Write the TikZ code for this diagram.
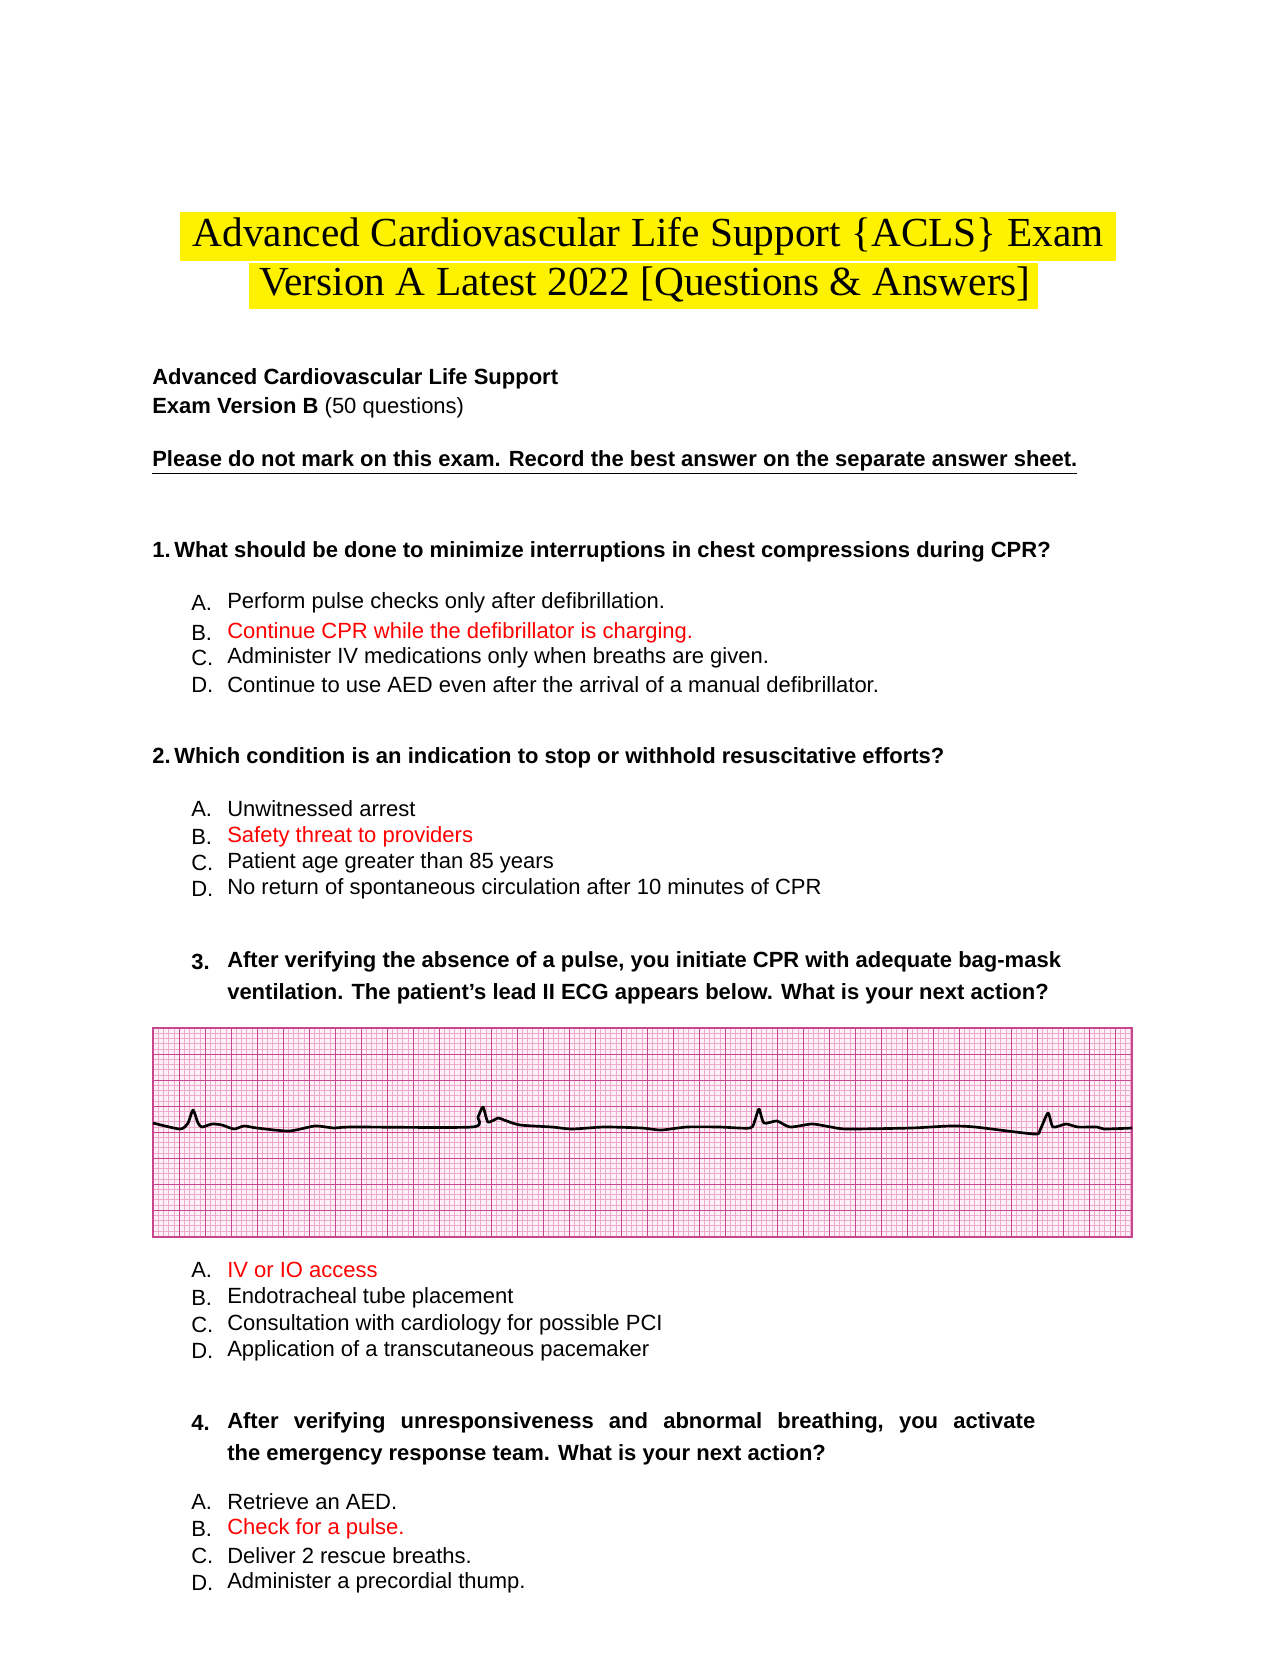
\documentclass[tikz,border=0pt]{standalone}
\usepackage{fontspec}
\setmainfont{Liberation Sans}
\newfontfamily\titlefont{Liberation Serif}
\definecolor{ecgbg}{RGB}{253,240,246}
\definecolor{ecgmin}{RGB}{238,170,205}
\definecolor{ecgmaj}{RGB}{200,70,140}
\begin{document}
\begin{tikzpicture}[x=0.75pt,y=-0.75pt,
  txt/.style={anchor=west,inner sep=0pt,font=\fontsize{16.5}{20}\selectfont},
  bq/.style={txt,font=\fontsize{16.5}{20}\selectfont\bfseries},
  ans/.style={txt,text=red},
  ttl/.style={font=\titlefont\fontsize{31}{36}\selectfont,inner sep=0pt}]
\useasboundingbox[fill=white] (0,0) rectangle (1280,1656);
% title
\fill[yellow] (180,212) rectangle (1116,261);
\fill[yellow] (249,263) rectangle (1038,309);
\node[ttl] (t1) at (648,236) {Advanced Cardiovascular Life Support \{ACLS\} Exam};
\node[ttl] (t2) at (645,285) {Version A Latest 2022 [Questions \& Answers]};
\node[bq] (h1) at (152,379) {Advanced Cardiovascular Life Support};
\node[txt] (h2) at (152,408) {\textbf{Exam Version B} (50 questions)};
\node[bq] (h3) at (152,462) {\underline{Please do not mark on this exam. Record the best answer on the separate answer sheet.}};
% Q1
\node[bq] (q1) at (152,552) {1.\,What should be done to minimize interruptions in chest compressions during CPR?};
\foreach \l/\y in {A/603,B/633,C/658,D/685} \node[txt] at (191,\y) {\l.};
\node[txt] at (227,603) {Perform pulse checks only after defibrillation.};
\node[ans] at (227,633) {Continue CPR while the defibrillator is charging.};
\node[txt] at (227,658) {Administer IV medications only when breaths are given.};
\node[txt] at (227,685) {Continue to use AED even after the arrival of a manual defibrillator.};
% Q2
\node[bq] (q2) at (152,758) {2.\,Which condition is an indication to stop or withhold resuscitative efforts?};
\foreach \l/\y in {A/809,B/837,C/863,D/889} \node[txt] at (191,\y) {\l.};
\node[txt] at (227,809) {Unwitnessed arrest};
\node[ans] at (227,837) {Safety threat to providers};
\node[txt] at (227,863) {Patient age greater than 85 years};
\node[txt] at (227,889) {No return of spontaneous circulation after 10 minutes of CPR};
% Q3
\node[bq] at (191,962) {3.};
\node[bq] (q3a) at (227,962) {After verifying the absence of a pulse, you initiate CPR with adequate bag-mask};
\node[bq] (q3b) at (227,994) {ventilation. The patient’s lead II ECG appears below. What is your next action?};
% ECG
\fill[ecgbg] (153,1028) rectangle (1132,1237);
\foreach \i in {0,...,188} \draw[ecgmin,line width=0.35pt] (153+\i*5.2,1028) -- (153+\i*5.2,1237);
\foreach \i in {0,...,40} \draw[ecgmin,line width=0.35pt] (153,1028+\i*5.2) -- (1132,1028+\i*5.2);
\foreach \i in {0,...,37} \draw[ecgmaj,line width=0.7pt] (153+\i*26,1028) -- (153+\i*26,1237);
\foreach \i in {0,...,8} \draw[ecgmaj,line width=0.7pt] (153,1028+\i*26) -- (1132,1028+\i*26);
\draw[ecgmaj,line width=0.8pt] (153,1028) rectangle (1132,1237);
\draw[line width=2pt,line join=round] plot[smooth,tension=0.4] coordinates {
(153,1123)(180,1129)(188,1123)(193,1110)(198,1123)(202,1127)(212,1124)(222,1125)(234,1129)(244,1126)(257,1128)(289,1131)(315,1126)(334,1128)(353,1127)(472,1127)(478,1117)(483,1107)(488,1122)(498,1118)(504,1120)(520,1125)(552,1127)(572,1129)(604,1127)(642,1128)(661,1130)(687,1127)(719,1127)(750,1128)(755,1120)(759,1109)(764,1123)(777,1121)(790,1127)(812,1124)(831,1127)(847,1129)(911,1128)(950,1126)(975,1127)(1034,1134)(1040,1130)(1048,1113)(1053,1127)(1066,1124)(1078,1127)(1097,1127)(1104,1129)(1132,1128)};
\foreach \l/\y in {A/1270,B/1298,C/1325,D/1351} \node[txt] at (191,\y) {\l.};
\node[ans] at (227,1270) {IV or IO access};
\node[txt] at (227,1298) {Endotracheal tube placement};
\node[txt] at (227,1325) {Consultation with cardiology for possible PCI};
\node[txt] at (227,1351) {Application of a transcutaneous pacemaker};
% Q4
\node[bq] at (191,1423) {4.};
\node[bq] (q4a) at (227,1423) {\hbox to 606pt{After\hfill verifying\hfill unresponsiveness\hfill and\hfill abnormal\hfill breathing,\hfill you\hfill activate}};
\node[bq] (q4b) at (227,1455) {the emergency response team. What is your next action?};
\foreach \l/\y in {A/1502,B/1529,C/1556,D/1583} \node[txt] at (191,\y) {\l.};
\node[txt] at (227,1502) {Retrieve an AED.};
\node[ans] at (227,1529) {Check for a pulse.};
\node[txt] at (227,1556) {Deliver 2 rescue breaths.};
\node[txt] at (227,1583) {Administer a precordial thump.};
\end{tikzpicture}
\end{document}
